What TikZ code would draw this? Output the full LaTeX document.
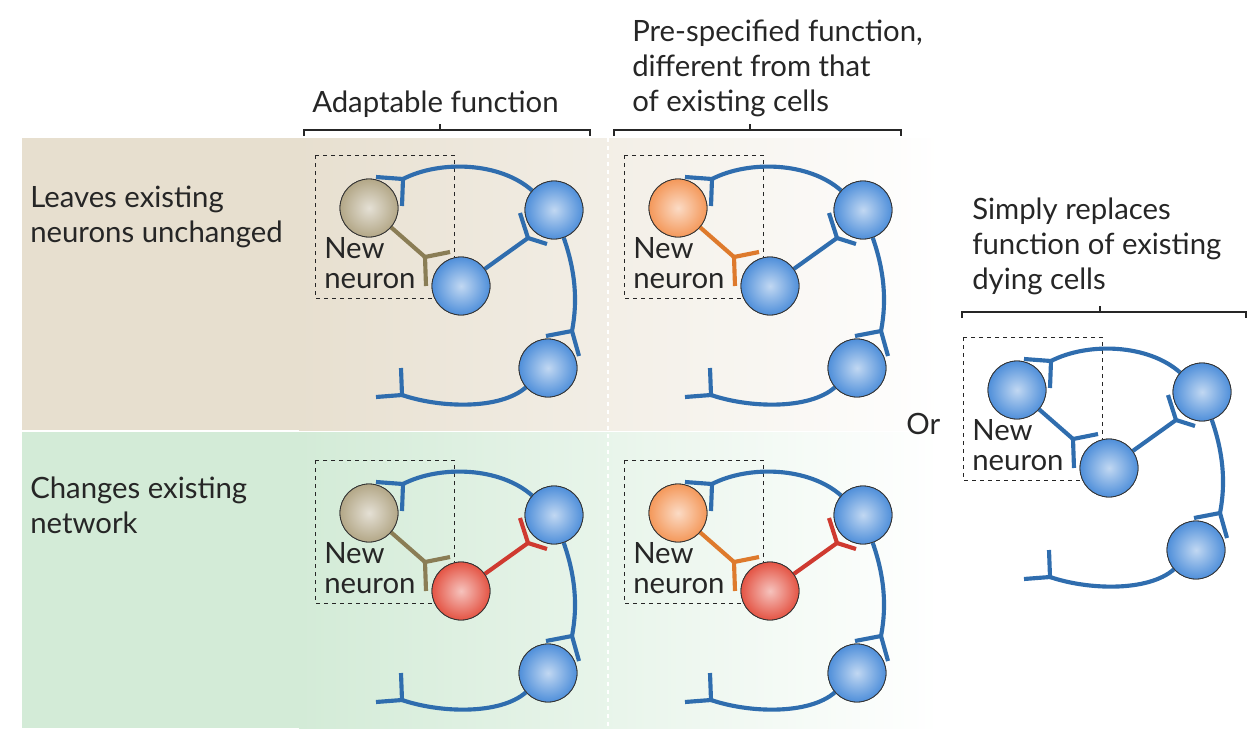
\documentclass[tikz,border=0pt]{standalone}
\usepackage{fontspec}
\setmainfont{Lato}
\usetikzlibrary{shadings}
\definecolor{tanb}{HTML}{B3A787}\definecolor{tanl}{HTML}{8A7D55}
\definecolor{orab}{HTML}{F4985A}\definecolor{oral}{HTML}{DE7A2C}
\definecolor{redb}{HTML}{E45444}\definecolor{redl}{HTML}{CF3A30}
\definecolor{blub}{HTML}{4F8FDA}\definecolor{blul}{HTML}{2F6DAE}
\definecolor{tanbg}{HTML}{E7DFCF}\definecolor{grnbg}{HTML}{D3EBD7}
\tikzset{
 ball/.style={circle,minimum size=43.5pt,inner sep=0pt,draw=black!80,line width=0.6pt,shading=radial,inner color=#1!35!white,outer color=#1},
 ax/.style={line width=3.1pt,draw=#1},
 lbl/.style={font=\fontsize{22pt}{26pt}\selectfont,text=black!85,inner sep=0pt},
 brk/.style={line width=0.8pt,black!85},
}
\newcommand\panel[7]{% ox oy newball newline bball bline prefix
\begin{scope}[shift={(#1,#2)}]
 \draw[dashed,black!85,line width=0.7pt] (315,155) rectangle (454,298);
 \coordinate (#7j1) at (403,179);\coordinate (#7j2) at (572,331);
 \coordinate (#7j3) at (528,238);\coordinate (#7j4) at (402,395);
 \coordinate (#7jn) at (425,257);
 \node[ball=blub] (#7A) at (554,210) {};
 \node[ball=blub] (#7C) at (548,368) {};
 \draw[ax=blul] (#7j1) .. controls (440,160) and (500,162) .. (#7A);
 \draw[ax=blul] (#7j1) -- (376,177) (#7j1) -- (402,206);
 \draw[ax=blul] (#7A) .. controls (575,270) and (578,300) .. (#7j2);
 \draw[ax=blul] (#7j2) -- (546,336) (#7j2) -- (579,356);
 \draw[ax=blul] (#7C) .. controls (500,410) and (440,408) .. (#7j4);
 \draw[ax=blul] (#7j4) -- (376,397) (#7j4) -- (401,368);
 \node[ball=#5] (#7B) at (461,286) {};
 \draw[ax=#6] (#7B) -- (#7j3);
 \draw[ax=#6] (#7j3) -- (520,213) (#7j3) -- (547,244);
 \draw[ax=#4] (#7jn) -- (450,252) (#7jn) -- (426,286);
 \node[ball=#3] (#7N) at (369,208) {};
 \draw[ax=#4] (#7N) -- (#7jn);
 \node[ball=blub] at (#7A) {};\node[ball=blub] at (#7C) {};\node[ball=#5] at (#7B) {};\node[ball=#3] at (#7N) {};
 \node[lbl,anchor=west,align=left] (#7t) at (324,263) {New\\[-4pt]neuron};
\end{scope}}
\begin{document}
\begin{tikzpicture}[x=0.75pt,y=-0.75pt]
\useasboundingbox (0,0) rectangle (1256,728);
\fill[tanbg] (22,138) rectangle (300,430);
\shade[left color=tanbg,right color=white] (299,138) rectangle (940,430);
\fill[grnbg] (22,432) rectangle (300,728);
\shade[left color=grnbg,right color=white] (299,432) rectangle (940,728);
\draw[white,dashed,line width=1pt] (608,138) -- (608,728);
\panel{0}{0}{tanb}{tanl}{blub}{blul}{p}
\panel{309}{0}{orab}{oral}{blub}{blul}{q}
\panel{0}{305}{tanb}{tanl}{redb}{redl}{r}
\panel{309}{305}{orab}{oral}{redb}{redl}{s}
\panel{648}{182}{blub}{blul}{blub}{blul}{t}
% brackets
\draw[brk] (304,136) -- (304,130) -- (590,130) -- (590,136) (440,130) -- (440,124);
\draw[brk] (614,136) -- (614,130) -- (901,130) -- (901,136) (750,130) -- (750,124);
\draw[brk] (962,318) -- (962,312) -- (1246,312) -- (1246,318) (1100,312) -- (1100,306);
\node[lbl,anchor=base west] (h1) at (312,112) {Adaptable function};
\node[lbl,anchor=base west,align=left] (h2) at (632,111) {Pre-specified function,\\different from that\\of existing cells};
\node[lbl,anchor=base west,align=left] (h3) at (972,289) {Simply replaces\\function of existing\\dying cells};
\node[lbl,anchor=base west,align=left] (l1) at (30,242) {Leaves existing\\neurons unchanged};
\node[lbl,anchor=base west,align=left] (l2) at (30,533) {Changes existing\\network};
\node[lbl,anchor=base west] (or) at (906,434) {Or};
\end{tikzpicture}
\end{document}
